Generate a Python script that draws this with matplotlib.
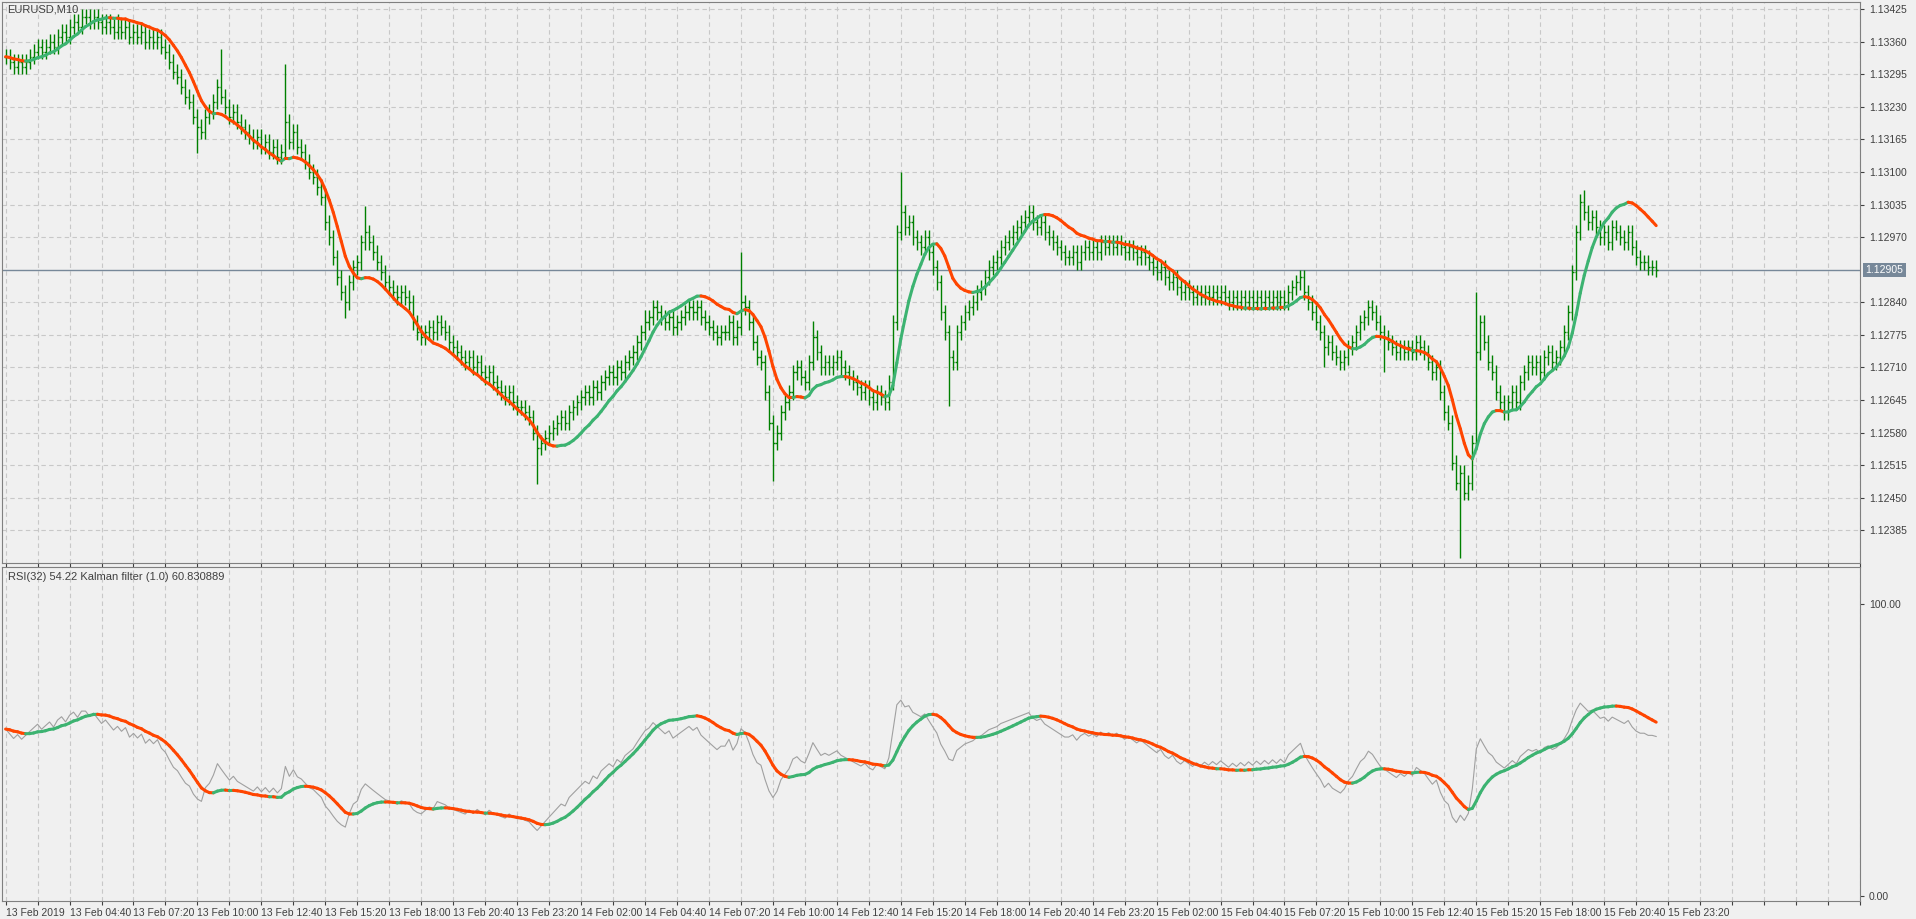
import numpy as np
import matplotlib
matplotlib.use("Agg")
import matplotlib.pyplot as plt
from matplotlib.collections import LineCollection

# ---------------------------------------------------------------------------
# data: EURUSD M10 closes, in pips above 1.12000
# ---------------------------------------------------------------------------
closes = [
    133, 132, 131, 132, 131, 132, 133, 134, 135, 134, 135,
    136, 135, 137, 138, 137, 139, 140, 139, 141, 141, 140,
    141, 140, 139, 140, 139, 138, 139, 138, 139, 137, 138,
    137, 138, 136, 137, 136, 137, 135, 134, 132, 130, 129,
    127, 125, 124, 121, 119, 118, 121, 122, 124, 127, 125,
    123, 121, 122, 120, 119, 118, 117, 116, 117, 115, 116, 114,
    115, 113, 114, 120, 116, 118, 115, 114, 112, 110, 109,
    107, 105, 100, 97, 93, 89, 86, 84, 88, 91, 92, 96, 98,
    96, 94, 92, 90, 88, 87, 86, 85, 86, 85, 84, 80, 78, 77,
    78, 79, 78, 80, 79, 78, 76, 75, 74, 73, 72, 73, 71, 72, 70,
    69, 70, 68, 67, 66, 65, 66, 64, 63, 63, 62, 61, 58, 55, 56,
    57, 58, 59, 60, 61, 60, 62, 63, 64, 65, 66, 65, 67, 66, 68,
    69, 70, 69, 71, 70, 72, 73, 74, 76, 78, 80, 81, 83, 82, 81,
    80, 81, 79, 80, 81, 82, 83, 82, 83, 81, 80, 79, 78, 77, 78,
    78, 80, 77, 79, 84, 83, 80, 76, 73, 72, 66, 60, 56,
    58, 62, 64, 66, 70, 71, 69, 68, 72, 77, 74, 71, 72,
    71, 72, 73, 71, 70, 69, 68, 67, 66, 67, 65, 64, 66, 65, 64,
    68, 80, 98, 102, 99, 100, 97, 96, 95, 97, 94, 91, 88, 82, 78,
    73, 72, 78, 80, 82, 83, 84, 86, 87, 89, 91, 92, 93, 95, 96,
    97, 98, 99, 100, 101, 102, 100, 99, 100, 98, 97, 96, 95, 94, 93,
    93, 94, 92, 94, 95, 94, 95, 94, 96, 95, 96, 95, 96, 95, 94,
    95, 94, 93, 94, 93, 92, 91, 90, 91, 89, 88, 89, 87, 86, 87,
    86, 85, 86, 85, 86, 85, 86, 85, 86, 85, 84, 85, 84, 85, 84,
    85, 84, 85, 84, 85, 84, 85, 84, 85, 84, 86, 87, 88, 89, 86,
    84, 82, 80, 78, 75, 76, 74, 73, 72, 73, 75, 76, 78, 80, 81,
    83, 82, 80, 78, 77, 76, 75, 74, 75, 74, 75, 74, 76, 75, 74,
    72, 70, 71, 66, 62, 60, 52, 48, 50, 46, 48, 56, 74, 80, 76,
    72, 70, 66, 64, 62, 64, 66, 64, 68, 70, 72, 71, 72, 70, 73,
    74, 72, 73, 75, 78, 82, 90, 98, 104, 102, 100, 101, 99, 97, 98,
    96, 99, 98, 97, 96, 98, 95, 93, 92, 92, 91, 91, 90.5,
]

# bars whose high / low stick out well beyond open and close: (index, pips)
spike_highs = [(54, 134.5), (70, 131.5), (90, 103.3), (184, 94.0), (202, 80.3),
               (224, 110.0), (368, 86.0), (395, 106.3), (28, 141.5), (160, 82.5)]
spike_lows = [(48, 113.7), (85, 80.8), (133, 47.7), (192, 48.3), (236, 63.3),
              (364, 33.0), (345, 70.0), (330, 71.0)]

date_labels = ["13 Feb 2019", "13 Feb 04:40", "13 Feb 07:20", "13 Feb 10:00",
               "13 Feb 12:40", "13 Feb 15:20", "13 Feb 18:00", "13 Feb 20:40",
               "13 Feb 23:20", "14 Feb 02:00", "14 Feb 04:40", "14 Feb 07:20",
               "14 Feb 10:00", "14 Feb 12:40", "14 Feb 15:20", "14 Feb 18:00",
               "14 Feb 20:40", "14 Feb 23:20", "15 Feb 02:00", "15 Feb 04:40",
               "15 Feb 07:20", "15 Feb 10:00", "15 Feb 12:40", "15 Feb 15:20",
               "15 Feb 18:00", "15 Feb 20:40", "15 Feb 23:20"]
price_ticks = [1.13425, 1.13360, 1.13295, 1.13230, 1.13165, 1.13100, 1.13035,
               1.12970, 1.12840, 1.12775, 1.12710, 1.12645, 1.12580,
               1.12515, 1.12450, 1.12385]
last_price = 1.12905

# ---------------------------------------------------------------------------
# indicators
# ---------------------------------------------------------------------------

def kalman(src, k=1.0):
    out = np.empty(len(src))
    value, velocity = src[0], 0.0
    for i, p in enumerate(src):
        dist = p - value
        err = value + dist * np.sqrt(k / 100.0 * 2.0)
        velocity += dist * k / 100.0
        value = err + velocity
        out[i] = value
    return out


def rsi(src, period=32):
    d = np.diff(src, prepend=src[0])
    up, dn = np.clip(d, 0, None), np.clip(-d, 0, None)
    au = up[1:period + 1].mean()
    ad = dn[1:period + 1].mean()
    out = np.empty(len(src))
    for i in range(len(src)):
        if i > 0:
            au += (up[i] - au) / period
            ad += (dn[i] - ad) / period
        out[i] = 100.0 * au / (au + ad) if au + ad > 0 else 50.0
    return out


c = 1.12 + np.array(closes) / 10000.0
n = len(c)
o = np.concatenate([[c[0]], c[:-1]])
hi = np.maximum(o, c) + 0.00015
lo = np.minimum(o, c) - 0.00015
for i, v in spike_highs:
    hi[i] = max(hi[i], 1.12 + v / 10000.0)
for i, v in spike_lows:
    lo[i] = min(lo[i], 1.12 + v / 10000.0)

kf_price = kalman(c)
rsi_vals = rsi(c)
kf_rsi = kalman(rsi_vals)

GREEN = "#3cb371"
RED = "#ff4500"
BG = "#f0f0f0"


def colored_line(ax, x, y):
    pts = np.column_stack([x, y])
    segs = np.stack([pts[:-1], pts[1:]], axis=1)
    cols = [GREEN if y[i + 1] >= y[i] else RED for i in range(len(y) - 1)]
    ax.add_collection(LineCollection(segs, colors=cols, linewidths=2.2,
                                     capstyle="round", zorder=4))


# ---------------------------------------------------------------------------
# figure
# ---------------------------------------------------------------------------
plt.rcParams["font.family"] = ["Liberation Sans", "DejaVu Sans"]
fig = plt.figure(figsize=(19.16, 9.19), dpi=100, facecolor=BG)
W, H = 1916.0, 919.0
ax = fig.add_axes([2 / W, 1 - 563 / H, 1858 / W, 561 / H])
ax2 = fig.add_axes([2 / W, 1 - 901 / H, 1858 / W, 334 / H], sharex=ax)

x = np.arange(n)
for a in (ax, ax2):
    a.set_facecolor(BG)
    for s in a.spines.values():
        s.set_color("#808080")
    a.yaxis.tick_right()
    a.tick_params(axis="both", labelsize=7.5, colors="#404040", length=3,
                  direction="out")
    a.grid(True, color="#c8c8c8", linestyle=(0, (4, 3)), linewidth=0.8)
    a.set_axisbelow(True)
ax.set_xlim(-0.9, 464)

# bars
ax.vlines(x, lo, hi, color="#008000", linewidth=1.0, zorder=3)
ax.hlines(o, x - 0.4, x, color="#008000", linewidth=1.0, zorder=3)
ax.hlines(c, x, x + 0.4, color="#008000", linewidth=1.0, zorder=3)
colored_line(ax, x, kf_price)

pip_top = 90.5 + 219 / 4.1
pip_bot = 90.5 - 240 / 4.1
ax.set_ylim(1.12 + pip_bot / 10000, 1.12 + pip_top / 10000)
ax.set_yticks(price_ticks)
ax.set_yticklabels([f"{t:.5f}" for t in price_ticks])
ax.axhline(last_price, color="#778899", linewidth=1.0, zorder=2)
ax.text(1.003, last_price, f"{last_price:.5f}", transform=ax.get_yaxis_transform(),
        fontsize=7.5, color="white", va="center", ha="left",
        bbox=dict(boxstyle="square,pad=0.2", fc="#778899", ec="none"))
ax.text(0.003, 0.995, "EURUSD,M10", transform=ax.transAxes, fontsize=8,
        color="#404040", va="top", ha="left", zorder=6)
plt.setp(ax.get_xticklabels(), visible=False)

# RSI pane
ax2.plot(x, rsi_vals, color="#a0a0a0", linewidth=0.8, zorder=3)
colored_line(ax2, x, kf_rsi)
ax2.set_ylim(-1.7, 112.6)
ax2.set_yticks([0, 100])
ax2.set_yticklabels(["0.00", "100.00"])
ax2.yaxis.grid(False)
ax2.text(0.003, 0.985, "RSI(32) 54.22 Kalman filter (1.0) 60.830889",
         transform=ax2.transAxes, fontsize=8, color="#404040",
         va="top", ha="left")

xt = np.arange(0, 465, 8)
ax2.set_xticks(xt)
ax2.set_xticklabels([date_labels[k // 2] if k % 2 == 0 and k // 2 < len(date_labels)
                     else "" for k in range(len(xt))], ha="left")
ax2.tick_params(axis="x", pad=2)

fig.savefig("out.png", dpi=100, facecolor=BG)
